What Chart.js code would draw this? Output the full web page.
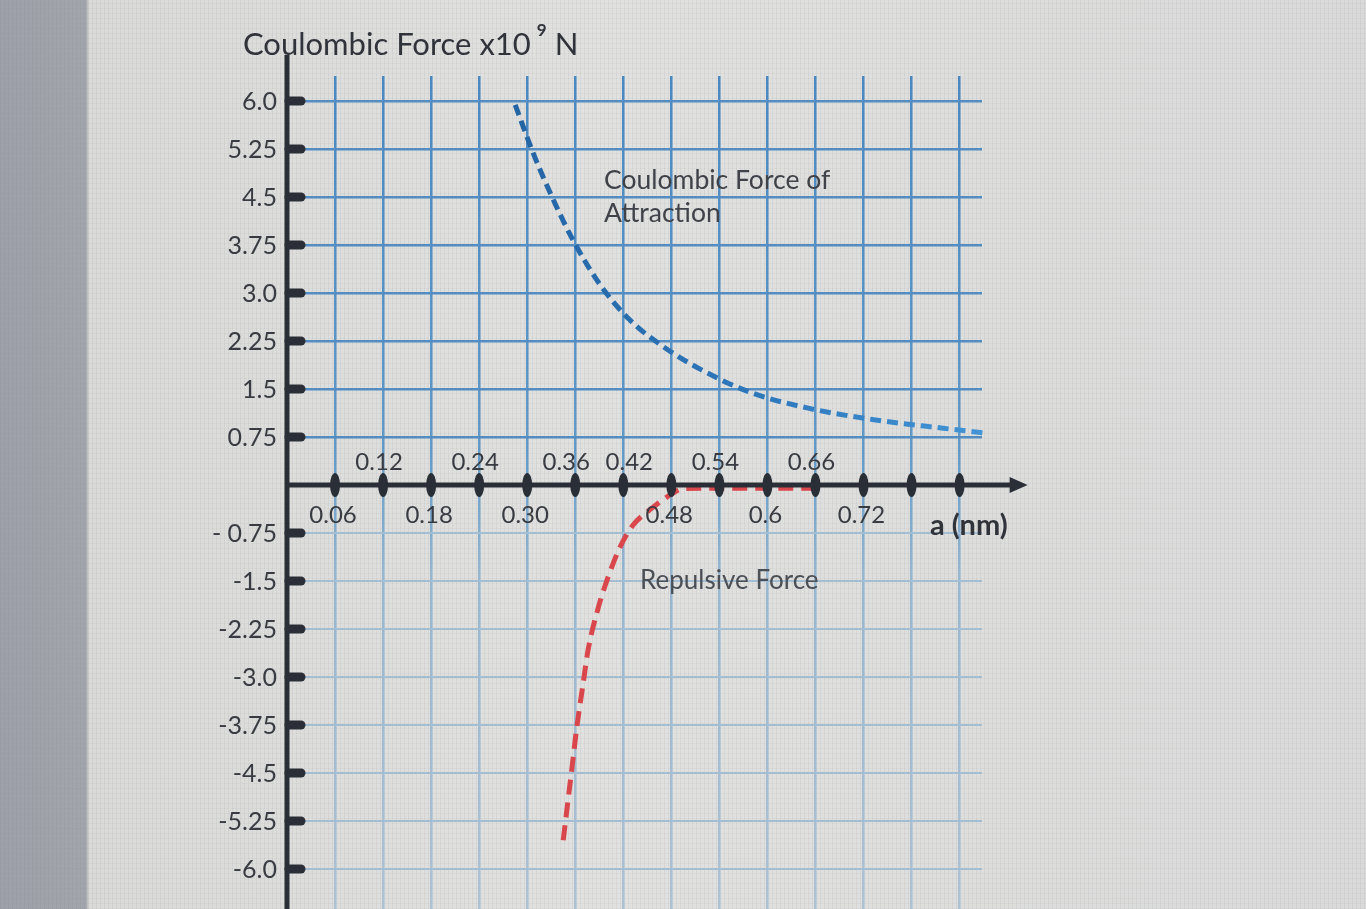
<!DOCTYPE html>
<html>
<head>
<meta charset="utf-8">
<script src="https://cdn.jsdelivr.net/npm/chart.js@4.4.0/dist/chart.umd.min.js"></script>
<style>
  html, body { margin: 0; padding: 0; }
  body {
    width: 1366px; height: 909px; overflow: hidden;
    background:
      repeating-linear-gradient(90deg, rgba(120,125,135,0.10) 0 1px, transparent 1px 4px),
      repeating-linear-gradient(0deg, rgba(120,125,135,0.06) 0 1px, transparent 1px 5px),
      linear-gradient(to right, #9da0a8 0px, #a2a5ac 86px, #dadad8 89px, #e1e1df 600px, #dadada 100%);
  }
  #wrap { position: relative; width: 1366px; height: 909px; }
</style>
</head>
<body>
<div id="wrap"><canvas id="myChart"></canvas></div>
<script>
// attraction curve (blue dashes)
const attractionX = [0.285, 0.307, 0.331, 0.357, 0.391, 0.428, 0.469, 0.516, 0.578, 0.651, 0.733, 0.817, 0.874]
const attractionY = [5.94, 5.20, 4.50, 3.83, 3.13, 2.58, 2.17, 1.81, 1.45, 1.20, 1.02, 0.89, 0.81]
// repulsive curve (red dashes)
const repulsiveX = [0.345, 0.350, 0.356, 0.362, 0.370, 0.376, 0.388, 0.401, 0.416, 0.432, 0.453, 0.478, 0.494, 0.524, 0.566, 0.607, 0.657]
const repulsiveY = [-5.55, -5.03, -4.41, -3.78, -3.09, -2.58, -1.95, -1.44, -0.97, -0.63, -0.39, -0.16, -0.06, -0.05, -0.05, -0.05, -0.05]

// y axis ticks
const yTickValues = [6, 5.25, 4.5, 3.75, 3, 2.25, 1.5, 0.75, -0.75, -1.5, -2.25, -3, -3.75, -4.5, -5.25, -6]
const yTickLabels = ['6.0', '5.25', '4.5', '3.75', '3.0', '2.25', '1.5', '0.75', '- 0.75', '-1.5', '-2.25', '-3.0', '-3.75', '-4.5', '-5.25', '-6.0']
// x axis ticks
const xTickValues = [0.06, 0.12, 0.18, 0.24, 0.30, 0.36, 0.42, 0.48, 0.54, 0.60, 0.66, 0.72, 0.78, 0.84]
const xLabelsAbove = [0.12, 0.24, 0.36, 0.42, 0.54, 0.66]
const xLabelsAboveText = ['0.12', '0.24', '0.36', '0.42', '0.54', '0.66']
const xLabelsBelow = [0.06, 0.18, 0.30, 0.48, 0.60, 0.72]
const xLabelsBelowText = ['0.06', '0.18', '0.30', '0.48', '0.6', '0.72']

const toPoints = (xs, ys) => xs.map((v, i) => ({ x: v, y: ys[i] }))

const FONT = 'Lato, "Open Sans", sans-serif'
const axisColor = '#2a2e36'
const textColor = '#383b41'

// draws the crossing axes, tick marks, labels and the notes
const overlay = {
  id: 'overlay',
  afterDatasetsDraw(chart) {
    const { ctx } = chart
    const x = chart.scales.x
    const y = chart.scales.y
    const x0 = x.getPixelForValue(0)
    const y0 = y.getPixelForValue(0)
    ctx.save()

    // y axis
    ctx.strokeStyle = axisColor
    ctx.lineWidth = 5
    ctx.beginPath()
    ctx.moveTo(x0, y.getPixelForValue(6.72))
    ctx.lineTo(x0, chart.height)
    ctx.stroke()

    // x axis with arrow
    const xEnd = x.getPixelForValue(0.925)
    ctx.beginPath()
    ctx.moveTo(x0, y0)
    ctx.lineTo(xEnd - 12, y0)
    ctx.stroke()
    ctx.fillStyle = axisColor
    ctx.beginPath()
    ctx.moveTo(xEnd, y0)
    ctx.lineTo(xEnd - 18, y0 - 8)
    ctx.lineTo(xEnd - 18, y0 + 8)
    ctx.closePath()
    ctx.fill()

    // y tick marks
    ctx.lineCap = 'round'
    ctx.lineWidth = 9
    yTickValues.forEach(v => {
      const py = y.getPixelForValue(v)
      ctx.beginPath()
      ctx.moveTo(x0 + 2, py)
      ctx.lineTo(x0 + 14, py)
      ctx.stroke()
    })
    // x tick marks
    xTickValues.forEach(v => {
      const px = x.getPixelForValue(v)
      ctx.beginPath()
      ctx.ellipse(px, y0, 5, 12, 0, 0, Math.PI * 2)
      ctx.fill()
    })

    // y labels
    ctx.fillStyle = textColor
    ctx.font = '25px ' + FONT
    ctx.textAlign = 'right'
    ctx.textBaseline = 'middle'
    yTickLabels.forEach((t, i) => {
      ctx.fillText(t, x0 - 10, y.getPixelForValue(yTickValues[i]) + 1)
    })

    // x labels
    ctx.textAlign = 'center'
    ctx.font = '24px ' + FONT
    xLabelsAbove.forEach((v, i) => {
      const nudge = v === 0.36 ? -9 : v === 0.42 ? 6 : -4
      ctx.fillText(xLabelsAboveText[i], x.getPixelForValue(v) + nudge, y0 - 23)
    })
    xLabelsBelow.forEach((v, i) => {
      ctx.fillText(xLabelsBelowText[i], x.getPixelForValue(v) - 2, y0 + 30)
    })

    // axis names
    ctx.textAlign = 'left'
    ctx.fillStyle = '#30333a'
    ctx.font = '31px ' + FONT
    const tx = x.getPixelForValue(-0.055)
    const ty = y.getPixelForValue(6.88)
    const main = 'Coulombic Force x10'
    ctx.fillText(main, tx, ty)
    const w = ctx.measureText(main).width
    ctx.font = 'bold 17px ' + FONT
    ctx.fillText('9', tx + w + 6, ty - 14)
    ctx.font = '31px ' + FONT
    ctx.fillText('N', tx + w + 24, ty)

    ctx.font = 'bold 29px ' + FONT
    ctx.fillText('a (nm)', x.getPixelForValue(0.803), y.getPixelForValue(-0.64))

    // curve notes
    ctx.fillStyle = '#3f4248'
    ctx.font = '26.5px ' + FONT
    ctx.fillText('Coulombic Force of', x.getPixelForValue(0.396), y.getPixelForValue(4.76))
    ctx.fillText('Attraction', x.getPixelForValue(0.396), y.getPixelForValue(4.24))
    ctx.fillStyle = '#4b4f56'
    ctx.font = '26px ' + FONT
    ctx.fillText('Repulsive Force', x.getPixelForValue(0.441), y.getPixelForValue(-1.5))

    ctx.restore()
  }
}

const vGridColor = (context) => {
  const chart = context.chart
  if (!chart.chartArea) return '#6a9cc8'
  const { top, bottom } = chart.chartArea
  const g = chart.ctx.createLinearGradient(0, top, 0, bottom)
  g.addColorStop(0, '#4a88c0')
  g.addColorStop(0.45, '#6199c6')
  g.addColorStop(0.6, '#97b6d0')
  g.addColorStop(1, '#aec2d3')
  return g
}

const blueDash = (context) => {
  const chart = context.chart
  if (!chart.chartArea) return '#2b6fb3'
  const { left, right } = chart.chartArea
  const g = chart.ctx.createLinearGradient(left, 0, right, 0)
  g.addColorStop(0.3, '#2363a3')
  g.addColorStop(0.7, '#2f79bd')
  g.addColorStop(1, '#4294d6')
  return g
}

const config = {
  type: 'line',
  data: {
    datasets: [{
      label: 'Coulombic Force of Attraction',
      data: toPoints(attractionX, attractionY),
      borderColor: blueDash,
      borderWidth: 5,
      borderDash: [11, 6],
      borderCapStyle: 'butt',
      pointRadius: 0,
      tension: 0.4,
      cubicInterpolationMode: 'monotone',
      fill: false,
      clip: false
    }, {
      label: 'Repulsive Force',
      data: toPoints(repulsiveX, repulsiveY),
      borderColor: '#d9474c',
      borderWidth: 5,
      borderDash: [15, 8],
      borderCapStyle: 'butt',
      pointRadius: 0,
      tension: 0.4,
      cubicInterpolationMode: 'monotone',
      fill: false,
      clip: false
    }]
  },
  options: {
    responsive: true,
    maintainAspectRatio: false,
    animation: false,
    layout: { padding: { left: 287, top: 76, right: 384, bottom: 0 } },
    plugins: { legend: { display: false }, tooltip: { enabled: false } },
    scales: {
      x: {
        type: 'linear',
        min: 0,
        max: 0.868,
        border: { display: false },
        ticks: { display: false, stepSize: 0.06, includeBounds: false },
        grid: {
          drawTicks: false,
          lineWidth: 2.5,
          color: (c) => (c.tick && Math.abs(c.tick.value) < 1e-6) ? 'rgba(0,0,0,0)' : vGridColor(c)
        }
      },
      y: {
        type: 'linear',
        min: -6.625,
        max: 6.39,
        border: { display: false },
        ticks: { display: false, stepSize: 0.75, includeBounds: false },
        grid: {
          drawTicks: false,
          lineWidth: (c) => (c.tick && c.tick.value > 0) ? 2.5 : 2,
          color: (c) => {
            if (!c.tick || Math.abs(c.tick.value) < 1e-6) return 'rgba(0,0,0,0)'
            return c.tick.value > 0 ? '#538dc2' : '#a3bdd3'
          }
        }
      }
    }
  },
  plugins: [overlay]
}

const myChart = document.getElementById('myChart')
const grafico = new Chart(myChart, config)
</script>
</body>
</html>
